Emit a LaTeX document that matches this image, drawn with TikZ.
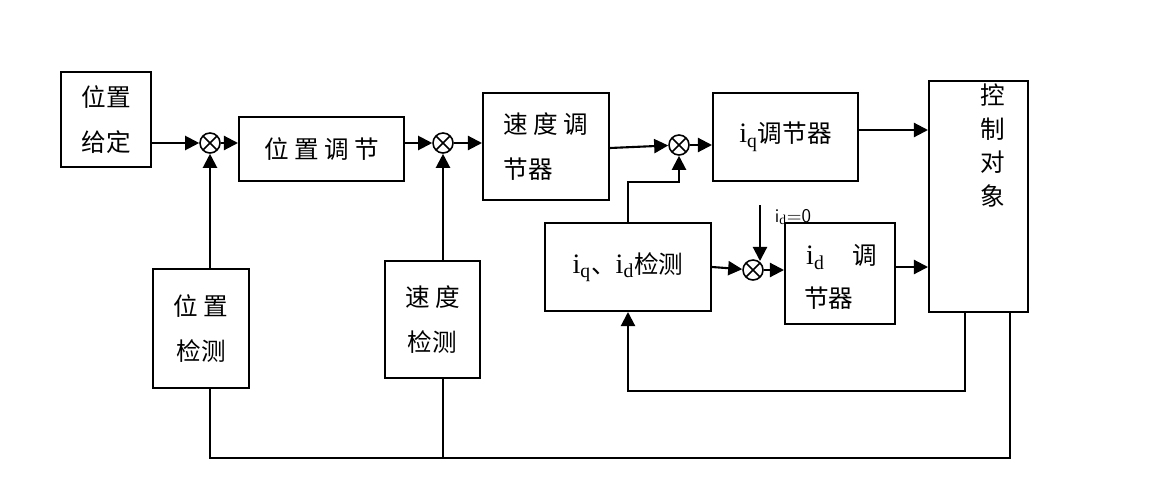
\documentclass[tikz,border=0pt]{standalone}
\usepackage{fontspec}
\setmainfont{Liberation Serif}
\newfontfamily\cjk{Noto Sans CJK SC}
\usetikzlibrary{arrows.meta}
\begin{document}
\begin{tikzpicture}[x=0.02cm,y=-0.02cm,
  blk/.style={draw,line width=1.2pt,inner sep=0pt},
  sum/.style={draw,circle,minimum size=0.4cm,inner sep=0pt,line width=0.9pt,path picture={\draw[line width=0.9pt] (path picture bounding box.north west)--(path picture bounding box.south east) (path picture bounding box.north east)--(path picture bounding box.south west);}},
  ln/.style={line width=1.2pt},
  ar/.style={line width=1.2pt,-{Triangle[length=8pt,width=8pt]}}]
\useasboundingbox (0,0) rectangle (1149,497);
\newcommand{\bx}[5]{\node[blk,minimum width=#4*0.02cm-1.2pt,minimum height=#5*0.02cm-1.2pt,anchor=north west] (#1) at (#2,#3) {};}
\bx{pg}{60}{71}{92}{97}
\bx{pt}{238}{116}{167}{66}
\bx{sr}{482}{92}{128}{109}
\bx{iq}{712}{92}{147}{90}
\bx{co}{928}{80}{101}{233}
\bx{dq}{544}{222}{168}{90}
\bx{id}{784}{222}{112}{103}
\bx{pd}{152}{268}{98}{121}
\bx{sd}{384}{260}{97}{119}
\node[font=\cjk\fontsize{14}{26}\selectfont,align=center] at (pg) {位置\\给定};
\node[font=\cjk\fontsize{14}{17}\selectfont] at (pt) {位 置 调 节};
\node[font=\cjk\fontsize{14}{26}\selectfont,align=left] at (sr) {速 度 调\\节器\hspace{2.2em}};
\node[font=\fontsize{16}{17}\selectfont] at (iq) {i$_\mathrm{q}${\cjk\fontsize{14}{17}\selectfont 调节器}};
\node[font=\cjk\fontsize{14}{19}\selectfont,align=center,anchor=north] at (993,78) {控\\制\\对\\象};
\node[font=\fontsize{16}{17}\selectfont] at (dq) {i$_\mathrm{q}${\cjk\fontsize{14}{17}\selectfont 、}i$_\mathrm{d}${\cjk\fontsize{14}{17}\selectfont 检测}};
\node[font=\fontsize{16}{17}\selectfont,anchor=west] at (800,257) {i$_\mathrm{d}$\quad{\cjk\fontsize{14}{17}\selectfont 调}};
\node[font=\cjk\fontsize{14}{17}\selectfont,anchor=west] at (798,298) {节器};
\node[font=\cjk\fontsize{14}{26}\selectfont,align=center] at (pd) {位 置\\检测};
\node[font=\cjk\fontsize{14}{26}\selectfont,align=center] at (sd) {速 度\\检测};
\node[font=\sffamily\fontsize{11}{12}\selectfont,inner sep=0pt] at (793,217) {i$_\mathrm{d}$=0};
\node[sum] (s1) at (210,143) {};
\node[sum] (s2) at (443,143) {};
\node[sum] (s3) at (679,145) {};
\node[sum] (s4) at (753,270) {};
\draw[ar] (pg.east|-s1) -- (s1);
\draw[ar] (s1) -- (pt.west|-s1);
\draw[ar] (pt.east|-s2) -- (s2);
\draw[ar] (s2) -- (sr.west|-s2);
\draw[ar] (610,148) -- (s3);
\draw[ar] (s3) -- (iq.west|-s3);
\draw[ar] (iq.east|-0,130) -- (co.west|-0,130);
\draw[ar] (dq.east|-0,267) -- (s4);
\draw[ar] (s4) -- (id.west|-s4);
\draw[ar] (id.east|-0,267) -- (co.west|-0,267);
\draw[ar] (760,205) -- (760,261);
\draw[ar] (pd.north-|s1) -- (s1);
\draw[ar] (sd.north-|s2) -- (s2);
\draw[ar] (628,222) -- (628,182) -- (679,182) -- (s3);
\draw[ar] (965,313) -- (965,391) -- (628,391) -- (dq.south-|628,0);
\draw[ln] (1010,313) -- (1010,458) -- (210,458) -- (pd.south-|210,0);
\draw[ln] (443,458) -- (sd.south-|443,0);
\end{tikzpicture}
\end{document}
